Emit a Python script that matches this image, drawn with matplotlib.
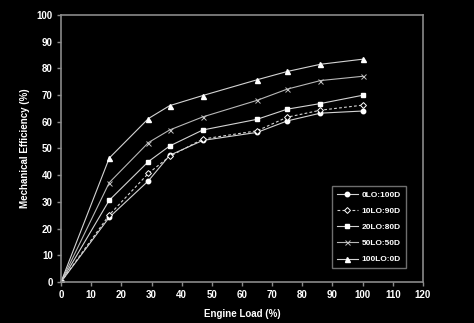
import matplotlib
matplotlib.use("Agg")
import matplotlib.pyplot as plt

# engine load (%)
load = [0, 16, 29, 36, 47, 65, 75, 86, 100]

# mechanical efficiency (%) per blend
eff_0lo = [0, 24.2, 37.9, 47.4, 53.0, 56.0, 60.3, 63.2, 64.0]
eff_10lo = [0, 25.1, 40.7, 47.0, 53.5, 56.6, 61.7, 64.3, 66.2]
eff_20lo = [0, 30.6, 45.1, 50.9, 56.9, 60.9, 64.7, 66.8, 69.9]
eff_50lo = [0, 37.2, 52.2, 56.9, 61.8, 68.0, 72.2, 75.4, 77.0]
eff_100lo = [0, 46.4, 61.2, 66.0, 69.8, 75.7, 78.8, 81.5, 83.4]

labels = ["0LO:100D", "10LO:90D", "20LO:80D", "50LO:50D", "100LO:0D"]
xticks = list(range(0, 121, 10))
yticks = list(range(0, 101, 10))

plt.rcParams['font.family'] = ['Liberation Sans', 'DejaVu Sans']

fg = "#d4d4d4"
frame = "#8a8a8a"

fig = plt.figure(figsize=(4.74, 3.23), dpi=100, facecolor="black")
ax = fig.add_axes([0.1287, 0.127, 0.7637, 0.827], facecolor="black")

ax.plot(load, eff_0lo, color=fg, lw=0.8, marker="o", ms=3.2,
        mfc="white", mec="white", label=labels[0])
ax.plot(load, eff_10lo, color=fg, lw=0.8, ls=(0, (2.5, 2)), marker="D", ms=3.0,
        mfc="black", mec="white", mew=0.7, label=labels[1])
ax.plot(load, eff_20lo, color=fg, lw=0.8, marker="s", ms=3.5,
        mfc="white", mec="white", label=labels[2])
ax.plot(load, eff_50lo, color="#b8b8b8", lw=0.8, marker="x", ms=3.6,
        mec="#c0c0c0", mew=0.7, label=labels[3])
ax.plot(load, eff_100lo, color=fg, lw=0.8, marker="^", ms=3.6,
        mfc="white", mec="white", label=labels[4])

ax.set_xlim(0, 120)
ax.set_ylim(0, 100)
ax.set_xticks(xticks)
ax.set_yticks(yticks)

for s in ax.spines.values():
    s.set_color(frame)
    s.set_linewidth(1.2)
ax.tick_params(colors=frame, labelcolor="white", labelsize=7, length=3,
               width=1, direction="out", pad=3)
for t in ax.get_xticklabels() + ax.get_yticklabels():
    t.set_fontweight("bold")

ax.set_xlabel("Engine Load (%)", color="white", fontsize=7, fontweight="bold", labelpad=6)
ax.set_ylabel("Mechanical Efficiency (%)", color="white", fontsize=7, fontweight="bold", labelpad=5)

leg = ax.legend(loc="upper left", bbox_to_anchor=(0.7486, 0.3596), fontsize=6,
                frameon=True, fancybox=False, facecolor="black", edgecolor=frame,
                labelspacing=1.0, handlelength=2.5, borderpad=0.6, handletextpad=0.45,
                borderaxespad=0)
leg.get_frame().set_linewidth(1.0)
for t in leg.get_texts():
    t.set_color("white")
    t.set_fontweight("bold")

fig.savefig("out.png", dpi=100, facecolor="black")
